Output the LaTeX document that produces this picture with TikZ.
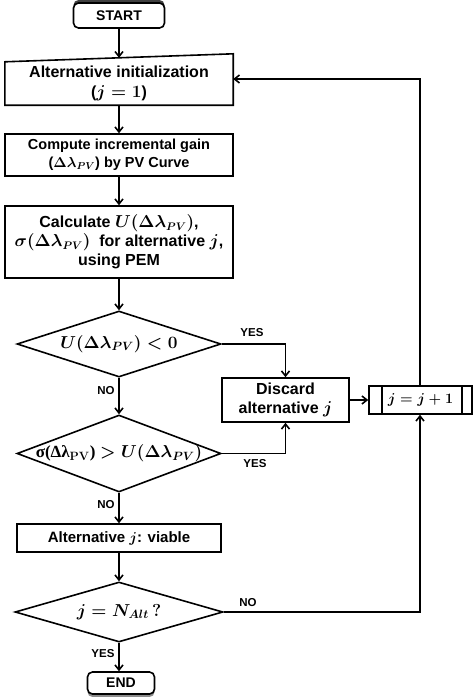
\documentclass[tikz,border=0pt]{standalone}
\usepackage{amsmath}
\usepackage{fontspec}
\setmainfont{Liberation Sans}
\newfontfamily\grkfont{Liberation Serif}
\usetikzlibrary{shapes.geometric, arrows.meta, positioning, shadows}

\begin{document}
\begin{tikzpicture}[
  x=1pt, y=-1pt,
  term/.style={rectangle, rounded corners=5pt, draw, line width=1.6pt,
              fill=white, inner sep=0pt, align=center,
              font=\fontsize{14}{16}\selectfont\bfseries},
  iobox/.style={rectangle, draw=none, inner sep=0pt, align=center,
              minimum width=228pt, minimum height=43pt,
              font=\fontsize{16}{20}\selectfont\bfseries\boldmath},
  proc/.style={rectangle, draw, line width=1.6pt, inner sep=0pt,
              align=center, font=\fontsize{16}{19}\selectfont\bfseries\boldmath},
  dec/.style={diamond, draw, line width=1.6pt, inner sep=0pt,
              font=\fontsize{17}{20}\selectfont\bfseries\boldmath},
  lbl/.style={inner sep=0pt, font=\fontsize{11.5}{13}\selectfont\bfseries},
  ln/.style={line width=1.6pt},
  arr/.style={-{Straight Barb[length=5pt, width=8pt]}, line width=1.6pt}
]
\useasboundingbox (0,0) rectangle (474,697);

% --- main column ---
\node[term, minimum width=91pt, minimum height=25pt,
      drop shadow={shadow xshift=0pt, shadow yshift=3pt, fill=black!75, opacity=1}]
      (start) at (119,15.5) {START};
\node[iobox] (init) at (119,83.5) {Alternative initialization\\($j=1$)};
\draw[ln] (init.south west) -- (init.south east)
  -- ([yshift=8pt]init.north east) -- (init.north west) -- cycle;
\path (init.north west) -- ([yshift=8pt]init.north east) coordinate[pos=0.5] (initin);

\node[proc, minimum width=228pt, minimum height=42pt,
      font=\fontsize{14.5}{18}\selectfont\bfseries\boldmath]
      (gain) at (119,155) {Compute incremental gain\\($\Delta\lambda_{PV}$) by PV Curve};
\node[proc, minimum width=228pt, minimum height=72pt]
      (calc) at (119,242) {Calculate $U(\Delta\lambda_{PV})$,\\
      $\sigma(\Delta\lambda_{PV})$\ \ for alternative $j$,\\ using PEM};

\node[dec, minimum width=204pt, minimum height=66pt]
      (neg) at (119,344) {\makebox[0pt]{$U(\Delta\lambda_{PV}) < 0$}};
\node[dec, minimum width=204pt, minimum height=77pt]
      (risk) at (119,453.5) {\makebox[0pt]{{\grkfont σ(Δλ}$_{\mathbf{PV}}${\grkfont )}
      $> U(\Delta\lambda_{PV})$}};
\node[proc, minimum width=204pt, minimum height=28pt,
      font=\fontsize{15}{18}\selectfont\bfseries\boldmath]
      (viable) at (119,538) {Alternative $j$: viable};
\node[dec, minimum width=208pt, minimum height=60pt]
      (last) at (119,612) {\makebox[0pt]{$j = N_{Alt}\,?$}};
\node[term, minimum width=67pt, minimum height=22pt,
      drop shadow={shadow xshift=0pt, shadow yshift=-3pt, fill=black!45, opacity=1}]
      (end) at (121,683) {END};

% --- right side ---
\node[proc, minimum width=127pt, minimum height=44pt]
      (discard) at (285.5,400) {Discard\\alternative $j$};
\node[proc, minimum width=103pt, minimum height=28pt,
      font=\fontsize{14}{17}\selectfont\boldmath]
      (jinc) at (420.5,400) {$j = j + 1$};
\draw[ln] ([xshift=14pt]jinc.north west) -- ([xshift=14pt]jinc.south west);
\draw[ln] ([xshift=-11pt]jinc.north east) -- ([xshift=-11pt]jinc.south east);
\coordinate (loop) at (420,79);

% --- connectors ---
\draw[arr] (start.south) -- (start.south |- initin);
\draw[arr] (init.south) -- (gain.north);
\draw[arr] (gain.south) -- (calc.north);
\draw[arr] (calc.south) -- (neg.north);
\draw[arr] (neg.south) -- (risk.north);
\draw[arr] (risk.south) -- (viable.north);
\draw[arr] (viable.south) -- (last.north);
\draw[arr] (last.south) -- (end.north -| last.south);
\draw[arr] (neg.east) -| (discard.north);
\draw[arr] (risk.east) -| (discard.south);
\draw[arr] (discard.east) -- (jinc.west);
\draw[arr] (last.east) -| (loop |- jinc.south);
\draw[arr] (loop |- jinc.north) -- (loop) -- (init.east |- loop);

% --- labels ---
\node[lbl] (yes1) at (252,333) {YES};
\node[lbl] (no1)  at (106,391) {NO};
\node[lbl] (yes2) at (255,464) {YES};
\node[lbl] (no2)  at (106,505) {NO};
\node[lbl] (no3)  at (248,603) {NO};
\node[lbl] (yes3) at (103,654) {YES};

\end{tikzpicture}
\end{document}
